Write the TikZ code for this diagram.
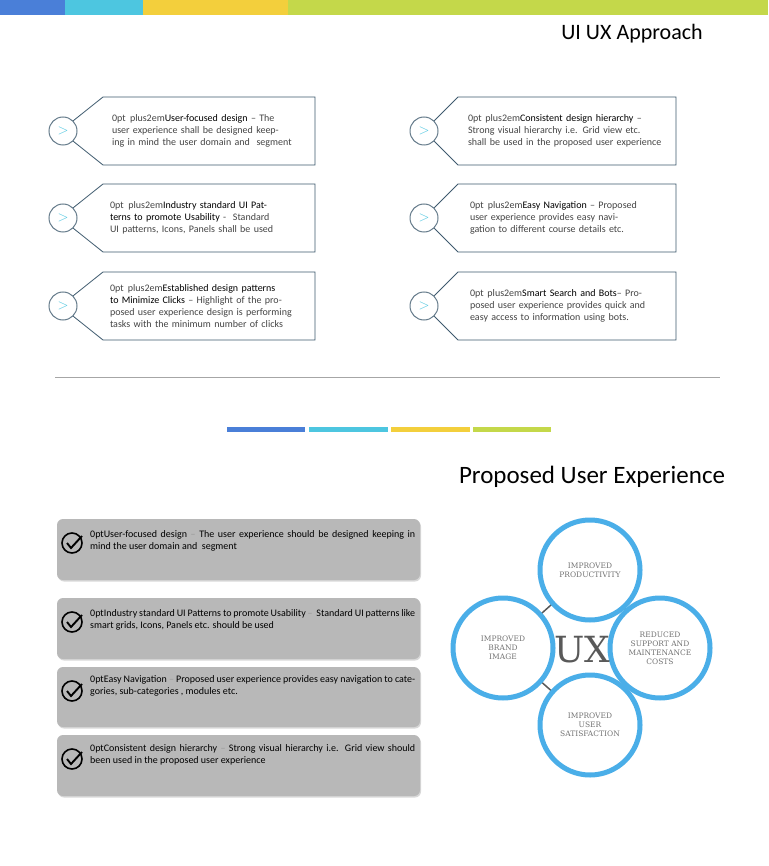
\documentclass[tikz,border=0pt]{standalone}
\usepackage{fontspec}
\setmainfont{Carlito}
\newfontfamily\slabf{DejaVu Serif}
\usetikzlibrary{shadows,calc}
\definecolor{cblue}{HTML}{4A7FD8}
\definecolor{ccyan}{HTML}{4DC6E0}
\definecolor{cyell}{HTML}{F3CF3C}
\definecolor{cgreen}{HTML}{C4D84A}
\definecolor{ring}{HTML}{4AAEE8}
\definecolor{edgec}{HTML}{3E5A6E}
\definecolor{txt}{HTML}{444444}
\begin{document}
\begin{tikzpicture}[x=1pt,y=-1pt,
  arrbox/.style={draw=edgec,line width=0.8pt},
  arrcirc/.style={circle,draw=edgec!80,line width=1pt,minimum size=28pt,inner sep=0pt,text=ccyan,font=\Large},
  btxt/.style={align=center,font=\hyphenpenalty=10000\fontsize{10.5}{13.2}\selectfont,text=txt,text width=200pt},
  greybox/.style={rounded corners=6pt,fill=black!28,drop shadow={opacity=0.3,shadow xshift=1pt,shadow yshift=-1.5pt}},
  gtxt/.style={align=justify,font=\hyphenpenalty=10000\fontsize{10.3}{13.5}\selectfont,text=black,text width=325pt,anchor=north west,inner sep=0pt},
  uxc/.style={circle,draw=ring,line width=5pt,fill=white,minimum size=100pt,inner sep=0pt,align=center,font=\slabf\fontsize{7.5}{9}\selectfont,text=black!55},
  ttl/.style={font=\fontsize{22}{24}\selectfont,text=black}]
\useasboundingbox (0,0) rectangle (768,866);
\fill[white] (0,0) rectangle (768,866);
% top bar
\fill[cblue] (0,0) rectangle (65,15);
\fill[ccyan] (65,0) rectangle (143,15);
\fill[cyell] (143,0) rectangle (288,15);
\fill[cgreen] (288,0) rectangle (768,15);
\node[ttl] (t1) at (632,34) {UI UX Approach};
% arrow boxes
\foreach \cx/\bx/\ex/\yy/\n in {63/103/315/131/a1,63/103/315/218/a2,63/103/315/306/a3,424/458/676/131/b1,424/458/676/218/b2,424/458/676/306/b3}{
  \node[arrcirc] (c\n) at (\cx,\yy) {$>$};
  \draw[arrbox] (c\n.north east) -- (\bx,\yy-34) -- (\ex,\yy-34) -- (\ex,\yy+34) -- (\bx,\yy+34) -- (c\n.south east);
}
\node[btxt] (ta1) at (212,131) {\textcolor{black}{User-focused design} -- The user experience shall be designed keeping in mind the user domain and \ segment};
\node[btxt] (ta2) at (210,218) {\textcolor{black}{Industry standard UI Patterns to promote Usability} - \ Standard UI patterns, Icons, Panels shall be used};
\node[btxt] (ta3) at (210,306) {\textcolor{black}{Established design patterns to Minimize Clicks} -- Highlight of the proposed user experience design is performing tasks with the minimum number of clicks};
\node[btxt] (tb1) at (568,131) {\textcolor{black}{Consistent design hierarchy} -- Strong visual hierarchy i.e. Grid view etc. shall be used in the proposed user experience};
\node[btxt] (tb2) at (570,218) {\textcolor{black}{Easy Navigation} -- Proposed user experience provides easy navigation to different course details etc.};
\node[btxt] (tb3) at (570,306) {\textcolor{black}{Smart Search and Bots}-- Proposed user experience provides quick and easy access to information using bots.};
% separator
\coordinate (l1) at (55,377); \coordinate (l2) at (720,377);
\draw[black!35,line width=0.6pt] (l1) -- (l2);
\fill[cblue] (227,427) rectangle (305,432);
\fill[ccyan] (309,427) rectangle (388,432);
\fill[cyell] (391,427) rectangle (470,432);
\fill[cgreen] (473,427) rectangle (551,432);
\node[font=\fontsize{25}{27}\selectfont] (t2) at (592,477) {Proposed User Experience};
% grey boxes
\foreach \ya/\yb/\n in {519/580/g1,598/659/g2,667/727/g3,735/796/g4}{
  \fill[greybox] (57,\ya) rectangle (420,\yb);
  \node[circle,draw=black,line width=1.6pt,minimum size=20pt,inner sep=0pt] (k\n) at (72,\ya+24) {};
  \draw[black,line width=1.9pt] ($(k\n)+(-5,0)$) -- ($(k\n)+(-1,5)$) -- ($(k\n)+(10,-7)$);
}
\node[gtxt] (g1t) at (90,530) {User-focused design \textcolor{black!40}{--} The user experience should be designed keeping in mind the user domain and \ segment};
\node[gtxt] (g2t) at (90,609) {Industry standard UI Patterns to promote Usability \textcolor{black!40}{--} \ Standard UI patterns like smart grids, Icons, Panels etc. should be used};
\node[gtxt] (g3t) at (90,675) {Easy Navigation \textcolor{black!40}{--} Proposed user experience provides easy navigation to categories, sub-categories , modules etc.};
\node[gtxt] (g4t) at (90,744) {Consistent design hierarchy \textcolor{black!40}{--} Strong visual hierarchy i.e. Grid view should been used in the proposed user experience};
% UX circles
\coordinate (ct) at (590,570); \coordinate (cr) at (660,648);
\coordinate (cb) at (590,725); \coordinate (cl) at (503,648);
\draw[black!65,line width=1.5pt] (ct) -- (cr) -- (cb) -- (cl) -- cycle;
\node[uxc] (u1) at (ct) {IMPROVED\\PRODUCTIVITY};
\node[uxc] (u2) at (cr) {REDUCED\\SUPPORT AND\\MAINTENANCE\\COSTS};
\node[uxc] (u3) at (cb) {IMPROVED\\USER\\SATISFACTION};
\node[uxc] (u4) at (cl) {IMPROVED\\BRAND\\IMAGE};
\node[font=\slabf\fontsize{36}{36}\selectfont,text=black!65] (ux) at (582,650) {UX};
\end{tikzpicture}
\end{document}
